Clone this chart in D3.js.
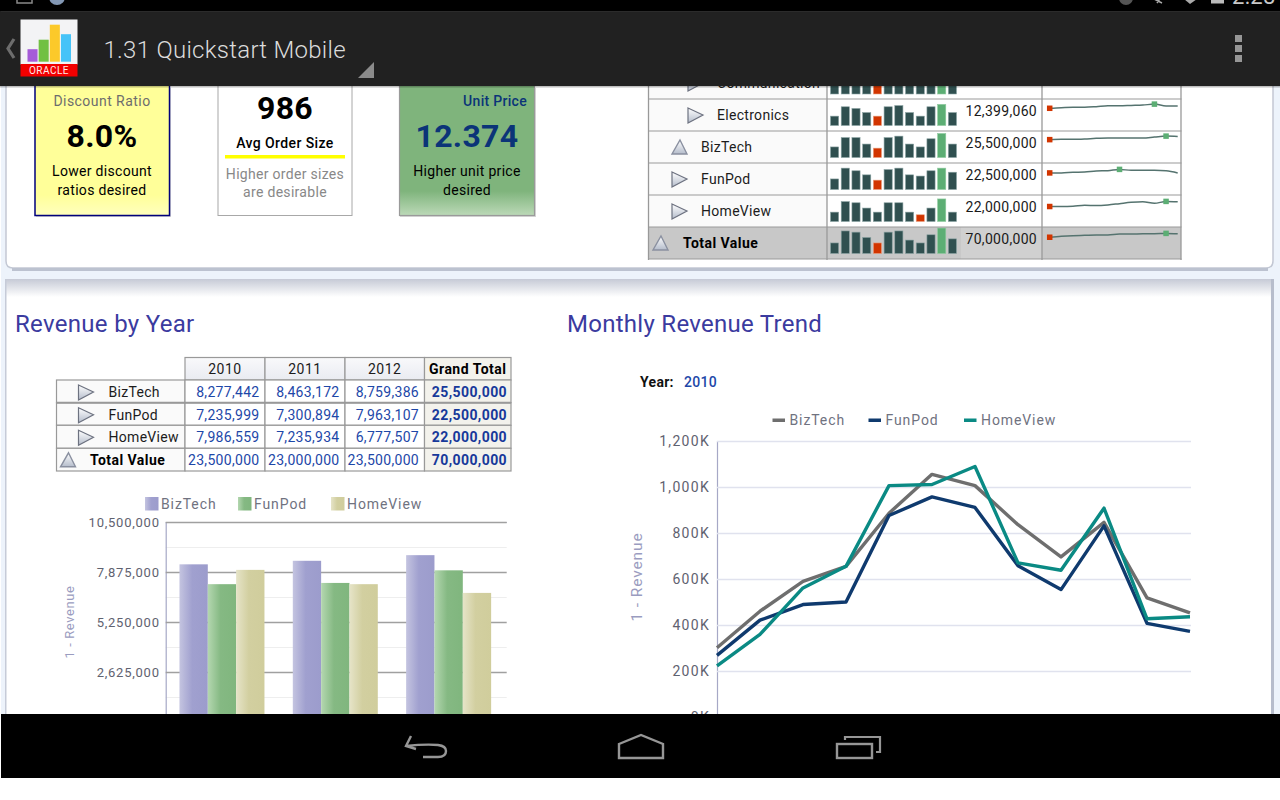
<!DOCTYPE html>
<html lang="en">
<head>
    <meta charset="UTF-8">
    <title>1.31 Quickstart Mobile</title>
    <script src="https://d3js.org/d3.v7.min.js"></script>
    <style>
        html, body { margin: 0; padding: 0; background: #fff; overflow: hidden; }
        svg { display: block; }
        text { font-family: Roboto, sans-serif; letter-spacing: 0.3px; }
    </style>
</head>
<body>
    <svg id="page" width="1280" height="800"></svg>
    <script>
        // Chart data
        const brands = ["BizTech", "FunPod", "HomeView"];
        const years = ["2010", "2011", "2012"];
        const months = ["Jan", "Feb", "Mar", "Apr", "May", "Jun", "Jul", "Aug", "Sep", "Oct", "Nov", "Dec"];

        const bizTechByYear = [8277442, 8463172, 8759386];
        const funPodByYear = [7235999, 7300894, 7963107];
        const homeViewByYear = [7986559, 7235934, 6777507];
        const totalByYear = [23500000, 23000000, 23500000];
        const grandTotals = [25500000, 22500000, 22000000, 70000000];

        const barTicks = [0, 2625000, 5250000, 7875000, 10500000];
        const barMinorTicks = [1312500, 3937500, 6562500, 9187500];

        const lineTicks = [0, 200, 400, 600, 800, 1000, 1200];
        const bizTechMonthly = [301, 460, 590, 655, 886, 1055, 1006, 836, 696, 846, 518, 453];
        const funPodMonthly = [268, 421, 489, 500, 876, 957, 911, 658, 554, 831, 407, 372];
        const homeViewMonthly = [222, 359, 561, 655, 1006, 1011, 1089, 670, 638, 908, 427, 436];

        // Microchart rows: monthly bars and the trend line for each table row
        const microLabels = ["Communication", "Electronics", "BizTech", "FunPod", "HomeView", "Total Value"];
        const microTotals = ["", "12,399,060", "25,500,000", "22,500,000", "22,000,000", "70,000,000"];
        const microBars = [
            [44, 89, 81, 62, 44, 89, 95, 62, 50, 89, 100, 62],
            [39, 78, 71, 54, 39, 78, 83, 54, 39, 78, 88, 54],
            [44, 83, 83, 56, 39, 83, 89, 56, 44, 78, 100, 56],
            [44, 89, 78, 61, 39, 83, 89, 61, 56, 78, 89, 72],
            [39, 83, 78, 56, 39, 78, 78, 39, 28, 56, 94, 39],
            [44, 94, 89, 67, 44, 89, 94, 56, 44, 78, 106, 61]
        ];
        const microLowMonth = [4, 4, 4, 4, 8, 4];
        const microHighMonth = [10, 10, 10, 10, 10, 10];
        const microLines = [
            [],
            [71, 73, 74, 74, 76, 79, 79, 80, 81, 84, 78, 78],
            [73, 74, 74, 75, 77, 78, 78, 78, 78, 81, 84, 83],
            [69, 69, 71, 72, 75, 76, 80, 77, 77, 77, 76, 69],
            [64, 64, 65, 68, 67, 69, 73, 77, 79, 74, 80, 79],
            [68, 71, 73, 74, 75, 75, 78, 78, 79, 79, 80, 79]
        ];

        const svg = d3.select("#page");
        const defs = svg.append("defs");
        const fmt = d3.format(",");

        function gradient(id, stops, horizontal) {
            const g = defs.append("linearGradient").attr("id", id)
                .attr("x1", 0).attr("y1", 0)
                .attr("x2", horizontal ? 1 : 0).attr("y2", horizontal ? 0 : 1);
            stops.forEach(s => g.append("stop").attr("offset", s[0]).attr("stop-color", s[1]));
        }
        gradient("barBiz", [[0, "#c4c4e0"], [0.45, "#a0a0cf"], [1, "#9c9ccc"]], true);
        gradient("barFun", [[0, "#b4d7b0"], [0.45, "#85b983"], [1, "#80b67e"]], true);
        gradient("barHome", [[0, "#e6e4c8"], [0.45, "#d2cfa0"], [1, "#d0cd9c"]], true);
        gradient("yellowBox", [[0, "#ffff99"], [0.85, "#ffff99"], [1, "#ffffbe"]]);
        gradient("greenBox", [[0, "#7fb47c"], [0.82, "#7fb47c"], [1, "#bcd9b8"]]);
        gradient("panelTop", [[0, "#c6cad6"], [1, "#ffffff"]]);
        gradient("headCell", [[0, "#f9f9fb"], [1, "#e9ebf1"]]);
        gradient("iconFill", [[0, "#ffffff"], [1, "#b4bccb"]]);

        function rect(parent, x, y, w, h, fill, stroke, sw) {
            return parent.append("rect").attr("x", x).attr("y", y).attr("width", w).attr("height", h)
                .attr("fill", fill).attr("stroke", stroke || "none").attr("stroke-width", sw || 0);
        }
        function label(parent, str, x, y, size, color, opts) {
            opts = opts || {};
            return parent.append("text").attr("x", x).attr("y", y).text(str)
                .attr("font-size", size).attr("fill", color)
                .attr("font-weight", opts.weight || 400)
                .attr("text-anchor", opts.anchor || "start")
                .style("letter-spacing", opts.spacing || null);
        }
        function iconRight(parent, x, cy) {
            parent.append("path").attr("d", `M${x},${cy - 7}L${x + 15},${cy}L${x},${cy + 8}Z`)
                .attr("fill", "url(#iconFill)").attr("stroke", "#6d7280").attr("stroke-width", 1.2);
        }
        function iconUp(parent, x, cy) {
            parent.append("path").attr("d", `M${x + 8},${cy - 7}L${x + 15},${cy + 7}L${x},${cy + 7}Z`)
                .attr("fill", "url(#iconFill)").attr("stroke", "#8a90a0").attr("stroke-width", 1.4);
        }

        // Page background and the two panels
        rect(svg, 0, 0, 1280, 800, "#ffffff");
        rect(svg, 1, 80, 1279, 640, "#edf3fb");
        rect(svg, 6, 70, 1267, 198, "#ffffff").attr("rx", 7);
        svg.append("path").attr("d", "M6,70V261Q6,268 13,268H1266Q1273,268 1273,261V70")
            .attr("fill", "none").attr("stroke", "#c3c8d4").attr("stroke-width", 1.5);
        rect(svg, 12, 268, 1256, 3, "#bcc2d0");
        rect(svg, 6, 279, 1267, 445, "#ffffff");
        rect(svg, 6, 279, 1267, 18, "url(#panelTop)");
        rect(svg, 5, 279, 1.5, 445, "#c6cbd8");
        rect(svg, 1271, 279, 3, 445, "#b7bdcc");

        // KPI tiles
        const kpi = svg.append("g");
        rect(kpi, 36, 88, 135, 129, "#777").attr("opacity", 0.3);
        rect(kpi, 35, 80, 134.5, 135.5, "url(#yellowBox)", "#00007c", 1.5);
        label(kpi, "Discount Ratio", 102, 106, 14, "#6d6d6d", { anchor: "middle", spacing: "0.45px" });
        label(kpi, "8.0%", 102, 147, 32, "#000", { anchor: "middle", weight: 700 });
        label(kpi, "Lower discount", 102, 176, 14, "#000", { anchor: "middle" });
        label(kpi, "ratios desired", 102, 195, 14, "#000", { anchor: "middle" });

        rect(kpi, 218, 80, 134, 135.5, "#fff", "#a8a8a8", 1);
        label(kpi, "986", 285, 119, 32, "#000", { anchor: "middle", weight: 700 });
        label(kpi, "Avg Order Size", 285, 148, 14, "#000", { anchor: "middle", weight: 500, spacing: "0.4px" });
        rect(kpi, 225, 155, 120, 3.5, "#ffff00");
        label(kpi, "Higher order sizes", 285, 179, 14, "#888", { anchor: "middle" });
        label(kpi, "are desirable", 285, 197, 14, "#888", { anchor: "middle" });

        rect(kpi, 400, 88, 136, 129, "#777").attr("opacity", 0.3);
        rect(kpi, 399.5, 80, 135, 135.5, "url(#greenBox)", "#9a9a9a", 1.2);
        label(kpi, "Unit Price", 527, 106, 14, "#0b3478", { anchor: "end", weight: 500 });
        label(kpi, "12.374", 467, 147, 32, "#0b3478", { anchor: "middle", weight: 700 });
        label(kpi, "Higher unit price", 467, 176, 14, "#000", { anchor: "middle" });
        label(kpi, "desired", 467, 195, 14, "#000", { anchor: "middle" });

        // Microchart table, top right
        const micro = svg.append("g");
        const rowH = 32;
        const rowTop = i => 67 + i * rowH;
        const microBarX = d3.scaleBand().domain(months).range([830.5, 956.5]).paddingInner(0.24);
        const microLineX = d3.scalePoint().domain(months).range([1049.7, 1177.7]);
        const microLineY = d3.scaleLinear().domain([0, 100]).range([rowH, 0]);
        const microBarY = d3.scaleLinear().domain([0, 100]).range([24, 0]);
        const microLine = d3.line().x((d, i) => microLineX(months[i])).y(d => microLineY(d)).curve(d3.curveMonotoneX);

        microLabels.forEach((name, r) => {
            const top = rowTop(r);
            const isTotal = name === "Total Value";
            const row = micro.append("g");
            rect(row, 649, top, 178, rowH, isTotal ? "#c8c8c8" : "#fafafa");
            rect(row, 827, top, 215, rowH, isTotal ? "#c8c8c8" : "#ffffff");
            if (isTotal) rect(row, 961, top, 81, rowH, "#d0d0d0");
            rect(row, 1042, top, 139, rowH, isTotal ? "#c8c8c8" : "#ffffff");

            // Icons and labels step in with the row's depth
            if (r < 2) {
                iconRight(row, 688, top + 16);
                label(row, name, 717, top + 21, 14, "#1c1c1c");
            } else if (isTotal) {
                iconUp(row, 653, top + 16);
                label(row, name, 683, top + 21, 14, "#000", { weight: 700, spacing: "0.45px" });
            } else {
                if (name === "BizTech") iconUp(row, 672, top + 16);
                else iconRight(row, 672, top + 16);
                label(row, name, 701, top + 21, 14, "#1c1c1c");
            }

            const values = microBars[r];
            const bottom = top + (r === 0 ? 27 : 26.5);
            const barFill = i => i === microLowMonth[r] ? "#d23500" : i === microHighMonth[r] ? "#5cae74" : "#305050";
            const barEdge = i => i === microLowMonth[r] ? "#e9a080" : i === microHighMonth[r] ? "#8fcaa0" : "#8ba3a3";
            row.selectAll("rect.mbar").data(values).join("rect").attr("class", "mbar")
                .attr("x", (d, i) => microBarX(months[i]))
                .attr("width", microBarX.bandwidth())
                .attr("y", d => bottom - (24 - microBarY(d)))
                .attr("height", d => 24 - microBarY(d))
                .attr("fill", (d, i) => barFill(i))
                .attr("stroke", (d, i) => barEdge(i))
                .attr("stroke-width", 0.6);

            label(row, microTotals[r], 1037, top + 17, 14, "#1a1a1a", { anchor: "end" });

            const line = microLines[r];
            if (line.length) {
                const g = row.append("g").attr("transform", `translate(0,${top})`);
                g.append("path").attr("d", microLine(line)).attr("fill", "none")
                    .attr("stroke", "#55736f").attr("stroke-width", 1.5);
                const hi = line.indexOf(d3.max(line));
                rect(g, microLineX(months[0]) - 2.75, microLineY(line[0]) - 2.75, 5.5, 5.5, "#d23500");
                rect(g, microLineX(months[hi]) - 2.75, microLineY(line[hi]) - 2.75, 5.5, 5.5, "#5cae74");
            }
        });
        [0, 1, 2, 3, 4, 5, 6].forEach(i => {
            micro.append("line").attr("x1", 648.5).attr("x2", 1181.5)
                .attr("y1", rowTop(i)).attr("y2", rowTop(i))
                .attr("stroke", "#999").attr("stroke-width", 1.2);
        });
        [648.5, 827, 1042, 1181].forEach(x => {
            micro.append("line").attr("x1", x).attr("x2", x).attr("y1", 67).attr("y2", 260)
                .attr("stroke", "#999").attr("stroke-width", 1.3);
        });

        // Section titles
        label(svg, "Revenue by Year", 15, 332, 24, "#3b3b9f", { spacing: "0.3px" });
        label(svg, "Monthly Revenue Trend", 567, 332, 24, "#3b3b9f", { spacing: "0.28px" });

        // Crosstab: Revenue by Year
        const tableG = svg.append("g");
        const colEdges = [56.5, 185, 265, 345, 424.5, 511];
        const rowEdges = [380, 402.7, 425.3, 448.3, 471];
        const tableRows = [bizTechByYear, funPodByYear, homeViewByYear, totalByYear];
        const tableNames = brands.concat(["Total Value"]);

        years.forEach((y, i) => {
            rect(tableG, colEdges[i + 1], 357.5, colEdges[i + 2] - colEdges[i + 1], 22.5, "url(#headCell)", "#999", 1.2);
            label(tableG, y, (colEdges[i + 1] + colEdges[i + 2]) / 2, 374, 14, "#1c1c1c", { anchor: "middle", spacing: "0.5px" });
        });
        rect(tableG, colEdges[4], 357.5, colEdges[5] - colEdges[4], 22.5, "#f3f2ec", "#999", 1.2);
        label(tableG, "Grand Total", (colEdges[4] + colEdges[5]) / 2, 374, 14, "#000", { anchor: "middle", weight: 700, spacing: "0.5px" });

        tableRows.forEach((vals, r) => {
            const top = rowEdges[r];
            const h = rowEdges[r + 1] - top;
            const isTotal = r === 3;
            rect(tableG, colEdges[0], top, colEdges[1] - colEdges[0], h, "#fafafa", "#999", 1.2);
            if (isTotal) {
                iconUp(tableG, 60.5, top + 11.5);
                label(tableG, tableNames[r], 90, top + 17, 14, "#000", { weight: 700, spacing: "0.45px" });
            } else {
                iconRight(tableG, 78.5, top + 12);
                label(tableG, tableNames[r], 108.5, top + 17, 14, "#1c1c1c");
            }
            vals.forEach((v, c) => {
                rect(tableG, colEdges[c + 1], top, colEdges[c + 2] - colEdges[c + 1], h, "#fff", "#999", 1.2);
                label(tableG, fmt(v), colEdges[c + 2] - 5.5, top + 17, 14, "#1d47a8", { anchor: "end" });
            });
            rect(tableG, colEdges[4], top, colEdges[5] - colEdges[4], h, "#f3f2ec", "#999", 1.2);
            label(tableG, fmt(grandTotals[r]), colEdges[5] - 4, top + 17, 14, "#17399a", { anchor: "end", weight: 700, spacing: "0.4px" });
        });
        // The first row's lower rule is heavier in the source table
        tableG.append("line").attr("x1", 56.5).attr("x2", 511).attr("y1", 402.7).attr("y2", 402.7)
            .attr("stroke", "#999").attr("stroke-width", 2);

        // Revenue by Year bars
        const barG = svg.append("g");
        const barColors = ["url(#barBiz)", "url(#barFun)", "url(#barHome)"];
        const barSeries = [bizTechByYear, funPodByYear, homeViewByYear];
        const barX = d3.scaleBand().domain(years).range([165.7, 505.7]).paddingInner(0.25).paddingOuter(0.125);
        const barInner = d3.scaleBand().domain(brands).range([0, barX.bandwidth()]);
        const barY = d3.scaleLinear().domain([0, 10500000]).range([722, 522]);

        const barMinor = d3.axisLeft(barY).tickValues(barMinorTicks).tickSize(-341).tickFormat("");
        barG.append("g").attr("transform", "translate(165.7,0)").call(barMinor)
            .call(g => g.select(".domain").remove())
            .selectAll("line").attr("stroke", "#eeeeee").attr("stroke-width", 1);

        const barAxis = d3.axisLeft(barY).tickValues(barTicks).tickSize(-341).tickPadding(6).tickFormat(fmt);
        barG.append("g").attr("transform", "translate(165.7,0)").call(barAxis)
            .call(g => g.select(".domain").attr("stroke", "#a6a8c6").attr("stroke-width", 1.2))
            .call(g => g.selectAll("line").attr("stroke", "#a0a0a0").attr("stroke-width", 1.3))
            .call(g => g.selectAll("text").attr("font-size", 13).attr("fill", "#5f6270")
                .style("font-family", "Roboto, sans-serif").style("letter-spacing", "0.75px"));

        barSeries.forEach((vals, s) => {
            barG.selectAll(`rect.s${s}`).data(vals).join("rect").attr("class", `s${s}`)
                .attr("x", (d, i) => barX(years[i]) + barInner(brands[s]) - 0.4)
                .attr("width", barInner.bandwidth())
                .attr("y", d => barY(d))
                .attr("height", d => barY(0) - barY(d))
                .attr("fill", barColors[s]);
        });

        const barLegendX = d3.scaleOrdinal().domain(brands).range([145, 238, 331]);
        brands.forEach((b, i) => {
            rect(barG, barLegendX(b), 497, 13.5, 13.5, barColors[i]);
            label(barG, b, barLegendX(b) + 16, 509, 14, "#70727f", { spacing: "0.9px" });
        });
        label(barG, "1 - Revenue", 0, 0, 13, "#9a9cc0", { anchor: "middle", spacing: "0.6px" })
            .attr("transform", "translate(74,622) rotate(-90)");

        // Monthly Revenue Trend
        const lineG = svg.append("g");
        label(lineG, "Year:", 640, 387, 14, "#111", { weight: 700 });
        label(lineG, "2010", 684, 387, 14, "#1d47a8", { weight: 500, spacing: "0.3px" });

        const lineX = d3.scalePoint().domain(months).range([717, 1190]);
        const lineY = d3.scaleLinear().domain([0, 1200]).range([717, 441]);
        const lineAxis = d3.axisLeft(lineY).tickValues(lineTicks).tickSize(-474).tickPadding(7)
            .tickFormat(d => fmt(d) + "K");
        lineG.append("g").attr("transform", "translate(717,0)").call(lineAxis)
            .call(g => g.select(".domain").attr("stroke", "#a6a8c6").attr("stroke-width", 1.2))
            .call(g => g.selectAll("line").attr("stroke", "#e0e2ee").attr("stroke-width", 1.3))
            .call(g => g.selectAll("text").attr("font-size", 14).attr("fill", "#5f6270")
                .style("font-family", "Roboto, sans-serif").style("letter-spacing", "1.3px"));

        const lineColors = ["#6e6e6e", "#0f3a6e", "#0a8a84"];
        const lineSeries = [bizTechMonthly, funPodMonthly, homeViewMonthly];
        const revenueLine = d3.line().x((d, i) => lineX(months[i])).y(d => lineY(d));
        lineSeries.forEach((vals, s) => {
            lineG.append("path").attr("d", revenueLine(vals)).attr("fill", "none")
                .attr("stroke", lineColors[s]).attr("stroke-width", 3.4).attr("stroke-linejoin", "round");
        });

        const lineLegendX = d3.scaleOrdinal().domain(brands).range([772.5, 868.5, 964]);
        brands.forEach((b, i) => {
            rect(lineG, lineLegendX(b), 418.5, 12.5, 3.5, lineColors[i]);
            label(lineG, b, lineLegendX(b) + 17, 425, 14, "#70727f", { spacing: "0.9px" });
        });
        label(lineG, "1 - Revenue", 0, 0, 15.5, "#9a9cc0", { anchor: "middle", spacing: "0.9px" })
            .attr("transform", "translate(642,577) rotate(-90)");

        // Android chrome: status bar, action bar, navigation bar
        const chrome = svg.append("g");
        rect(chrome, 0, 0, 1280, 12, "#000");
        rect(chrome, 17, -6, 15, 9, "none", "#8a8a8a", 1.5);
        chrome.append("circle").attr("cx", 57).attr("cy", -3).attr("r", 8).attr("fill", "#8398b5");
        chrome.append("circle").attr("cx", 1126).attr("cy", -2).attr("r", 7).attr("fill", "#555");
        chrome.append("path").attr("d", "M1150,-3L1162,3M1157,3L1161,-3").attr("stroke", "#aaa").attr("stroke-width", 1.5);
        chrome.append("path").attr("d", "M1184,-1H1197L1190,4Z").attr("fill", "#aaa");
        rect(chrome, 1211, -4, 13, 7.5, "#bbb");
        label(chrome, "2:28", 1232, 4, 22, "#c8c8c8");

        rect(chrome, 0, 11, 1280, 75, "#212121");
        rect(chrome, 1, 11, 1279, 1, "#2b2b2b");
        rect(chrome, 0, 86, 1280, 1.5, "#000").attr("opacity", 0.25);

        chrome.append("path").attr("d", "M14,39L8,48.5L14,58")
            .attr("fill", "none").attr("stroke", "#6d6d6d").attr("stroke-width", 3.2);

        // App logo, bars drawn from their own small scale
        const logoHeights = [12.5, 22, 37, 27.5];
        const logoColors = ["#a55bd8", "#72c043", "#fcc92a", "#45c3f8"];
        const logoX = d3.scaleBand().domain(logoHeights.map((d, i) => i)).range([27.5, 71]).paddingInner(0.1);
        rect(chrome, 20.5, 19.5, 57, 45, "#f3f3f5");
        chrome.selectAll("rect.logo").data(logoHeights).join("rect").attr("class", "logo")
            .attr("x", (d, i) => logoX(i)).attr("width", logoX.bandwidth())
            .attr("y", d => 61.7 - d).attr("height", d => d)
            .attr("fill", (d, i) => logoColors[i]);
        rect(chrome, 20.5, 64, 57, 12.5, "#f20000");
        label(chrome, "ORACLE", 49, 74, 10, "#ffe9e9", { anchor: "middle", spacing: "0.5px" });

        label(chrome, "1.31 Quickstart Mobile", 103.5, 58, 24, "#dcdcdc", { spacing: "0.28px" }).attr("font-weight", 300);
        chrome.append("path").attr("d", "M374,62V78H358Z").attr("fill", "#8b8b8b");

        [35, 45, 55].forEach(y => rect(chrome, 1235, y, 7, 7, "#969696"));

        rect(chrome, 1, 714, 1279, 64, "#000");
        const navStroke = "#969696";
        chrome.append("path")
            .attr("d", "M411,736L406,746L416,749M406,746Q425,744 438,745Q446,746 446,751Q446,757 438,757H423")
            .attr("fill", "none").attr("stroke", navStroke).attr("stroke-width", 2.4);
        chrome.append("path").attr("d", "M619,744L641,735L663,744V758H619Z")
            .attr("fill", "none").attr("stroke", navStroke).attr("stroke-width", 2.4);
        chrome.append("rect").attr("x", 837).attr("y", 744).attr("width", 35).attr("height", 14)
            .attr("fill", "none").attr("stroke", navStroke).attr("stroke-width", 2.4);
        chrome.append("path").attr("d", "M845,740V737H880V752H876")
            .attr("fill", "none").attr("stroke", navStroke).attr("stroke-width", 2.2);
    </script>
</body>
</html>
